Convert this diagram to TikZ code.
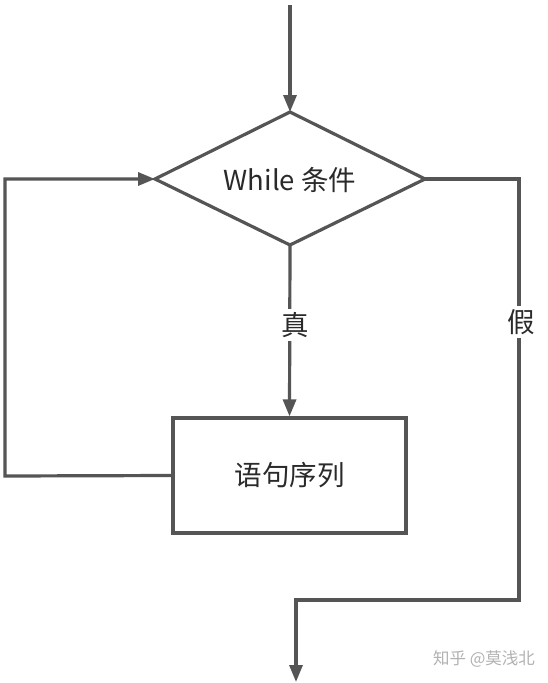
\documentclass[tikz,border=0pt]{standalone}
\usepackage{fontspec}
\setmainfont{Noto Sans CJK SC}
\usetikzlibrary{arrows.meta,shapes.geometric}
\definecolor{linec}{HTML}{555555}
\definecolor{textc}{HTML}{2a2a2a}
\tikzset{
  conn/.style={draw=linec, line width=3.2pt},
  arr/.style={conn, -{Triangle[length=17pt,width=13pt]}},
  big/.style={text=textc, font=\fontsize{27.5pt}{30pt}\selectfont},
  lbl/.style={big, fill=white, inner sep=3pt},
}
\begin{document}
\begin{tikzpicture}[x=1pt,y=-1pt]
\useasboundingbox (0,0) rectangle (548,683);
\fill[white] (0,0) rectangle (548,683);
% nodes
\coordinate (start) at (290,5);
\coordinate (dt) at (290,112);
\coordinate (db) at (290,245);
\coordinate (dl) at (155,179);
\coordinate (dr) at (425,179);
\draw[conn, line join=miter] (dt) -- (dr) -- (db) -- (dl) -- cycle;
\node[big] (cond) at (290,180) {While 条件};
\node[draw=linec, line width=3.2pt, minimum width=233pt, minimum height=115pt, big] (body) at (289.5,475.5) {语句序列};
\coordinate (lc1) at (5,476);
\coordinate (lc2) at (5,179);
\coordinate (rc1) at (519,179);
\coordinate (rc2) at (519,600);
\coordinate (bc1) at (296,600);
\coordinate (endp) at (296,682);
% connectors
\draw[arr] (start) -- (dt);
\draw[arr] (db) -- (body.north);
\draw[arr, line join=miter] (body.west) -- (lc1) -- (lc2) -- (dl);
\draw[arr, line join=miter] (dr) -- (rc1) -- (rc2) -- (bc1) -- (endp);
% labels
\node[lbl] (t) at (295,325) {真};
\node[lbl] (f) at (521,322) {假};
\node[text=black!30, font=\fontsize{16.5pt}{18pt}\selectfont] (wm) at (484,659) {知乎 @莫浅北};
\end{tikzpicture}
\end{document}
